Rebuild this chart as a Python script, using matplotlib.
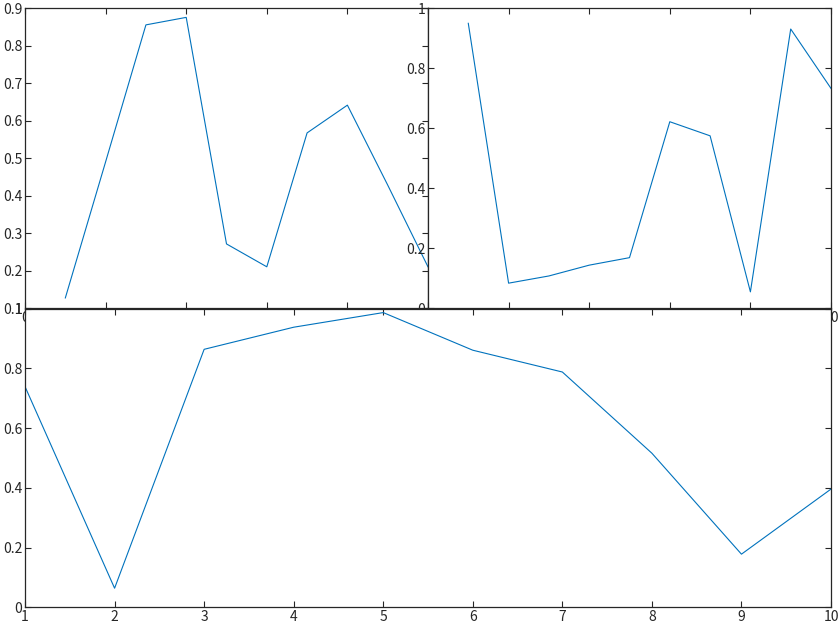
import numpy as np
import matplotlib
matplotlib.use("Agg")
import matplotlib.pyplot as plt

plt.rcParams['font.family'] = ['Noto Sans CJK JP', 'DejaVu Sans']

# data
x = np.arange(1, 11)
top_left = [0.127, 0.49, 0.855, 0.875, 0.271, 0.21, 0.567, 0.641, 0.428, 0.21]
top_right = [0.949, 0.083, 0.107, 0.143, 0.168, 0.621, 0.574, 0.054, 0.930, 0.732]
bottom = [0.739, 0.064, 0.864, 0.938, 0.987, 0.861, 0.788, 0.516, 0.178, 0.396]

line_col = '#0072BD'
axis_col = '#262626'

fig = plt.figure(figsize=(8.4, 6.3), dpi=100)


def style(ax):
    for s in ax.spines.values():
        s.set_color(axis_col)
        s.set_linewidth(0.9)
    ax.tick_params(direction='in', length=4, width=0.8, color=axis_col,
                   labelcolor=axis_col, labelsize=10, pad=2,
                   top=True, right=True)


ax1 = fig.add_axes([0.0298, 0.511, 0.4797, 0.4763])
ax1.plot(x, top_left, color=line_col, lw=0.8)
ax1.set_xlim(0, 10)
ax1.set_ylim(0.1, 0.9)
ax1.set_xticks(np.arange(0, 11, 2))
ax1.set_yticks(np.arange(0.1, 0.91, 0.1))
ax1.set_yticklabels(['0.1', '0.2', '0.3', '0.4', '0.5', '0.6', '0.7', '0.8', '0.9'])
style(ax1)

ax2 = fig.add_axes([0.5095, 0.511, 0.4798, 0.4763])
ax2.plot(x, top_right, color=line_col, lw=0.8)
ax2.set_xlim(0, 10)
ax2.set_ylim(0, 1)
ax2.set_xticks(np.arange(0, 11, 2))
ax2.set_yticks(np.arange(0, 1.01, 0.2))
ax2.set_yticklabels(['0', '0.2', '0.4', '0.6', '0.8', '1'])
style(ax2)

ax3 = fig.add_axes([0.0298, 0.036, 0.9595, 0.474])
ax3.plot(x, bottom, color=line_col, lw=0.8)
ax3.set_xlim(1, 10)
ax3.set_ylim(0, 1)
ax3.set_xticks(np.arange(1, 11))
ax3.set_yticks(np.arange(0, 1.01, 0.2))
ax3.set_yticklabels(['0', '0.2', '0.4', '0.6', '0.8', '1'])
style(ax3)

fig.savefig("out.png", dpi=100)
